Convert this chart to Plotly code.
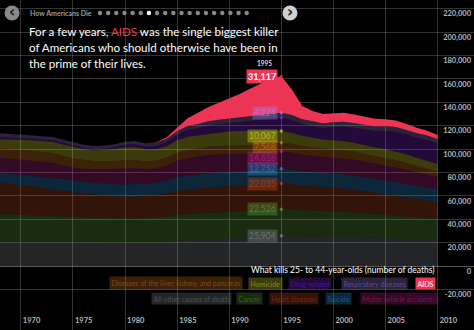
import numpy as np
import plotly.graph_objects as go

W, H = 474, 330

years = list(range(1968, 2011))

all_other = [20200, 20100, 20000, 20100, 20200, 20300, 20400, 20500, 20400, 20200,
             20000, 19700, 19500, 19600, 19700, 20300, 21000, 22000, 22300, 22800,
             23200, 23500, 23800, 24200, 24700, 25200, 25600, 25904, 25800, 25300,
             25300, 25200, 25200, 25000, 24800, 24500, 24200, 23900, 23600, 23300,
             23000, 22600, 22200]
cancer = [24200, 23900, 23600, 23200, 22500, 22200, 21800, 21400, 21000, 21000,
          21000, 21100, 21300, 21300, 21300, 21300, 21400, 21800, 22100, 22200,
          22400, 22600, 22700, 22700, 22700, 22600, 22600, 22526, 22400, 22200,
          22000, 21800, 21500, 21200, 20900, 20500, 20100, 19700, 19300, 18900,
          18600, 18300, 18000]
heart = [26300, 26000, 25600, 24800, 23900, 23300, 22300, 21200, 20400, 19600,
         19300, 18800, 18500, 18600, 18600, 18900, 19400, 20700, 21000, 21200,
         21400, 21500, 21600, 21700, 21800, 21900, 22000, 22035, 21700, 21000,
         20900, 20600, 20400, 20000, 19500, 18900, 18300, 17600, 16900, 16200,
         15500, 14800, 14200]
suicide = [8500, 8600, 8700, 9000, 9300, 9600, 9800, 10100, 10200, 10400,
           10300, 10200, 10300, 10600, 10800, 10900, 11200, 11700, 12000, 12200,
           12300, 12400, 12600, 12600, 12700, 12800, 12800, 12752, 12600, 12400,
           12200, 12000, 11900, 11900, 12000, 11900, 11900, 11800, 11700, 11700,
           11600, 11500, 11400]
motor_vehicle = [13400, 13200, 12900, 12900, 13000, 12900, 11800, 11000, 11200, 11200,
                 12000, 12900, 13800, 13600, 12300, 12200, 13000, 13800, 14800, 15100,
                 15400, 15200, 15000, 14500, 14100, 14300, 14500, 14618, 14500, 14200,
                 13900, 13700, 13700, 13600, 13600, 13200, 13000, 12900, 12600, 12100,
                 11200, 10500, 10000]
liver = [8000, 8200, 8500, 8500, 8500, 8400, 8200, 7900, 7600, 7300,
         7100, 7000, 7000, 6900, 6700, 6600, 6700, 6900, 7000, 7100,
         7200, 7300, 7400, 7400, 7500, 7500, 7600, 7568, 7500, 7400,
         7300, 7200, 7200, 7100, 7000, 6800, 6600, 6400, 6200, 5900,
         5600, 5300, 5000]
homicide = [7700, 8300, 8600, 9000, 9300, 9500, 9800, 9600, 9100, 9000,
            9300, 10200, 11200, 11000, 10300, 9700, 9600, 10600, 11200, 10800,
            11000, 11400, 12000, 12300, 11900, 11800, 11000, 10067, 9300, 8800,
            8100, 7600, 7500, 7900, 7500, 7400, 7200, 7400, 7500, 7400,
            7000, 6700, 6400]
drug = [2000, 1700, 1500, 1500, 1500, 1400, 1400, 1300, 1200, 1200,
        1300, 1500, 2000, 2600, 2300, 2800, 3600, 4500, 6000, 6500,
        7200, 7300, 7000, 7600, 8000, 8300, 9700, 11300, 11000, 10000,
        10000, 9800, 11400, 12600, 12800, 13200, 14000, 15800, 17000, 17000,
        17200, 18000, 17500]
respiratory = [3100, 3000, 2900, 2800, 2800, 2700, 2600, 2600, 2600, 2600,
               2600, 2600, 2700, 2700, 2700, 2800, 2900, 3100, 3300, 3500,
               3700, 3800, 3900, 4000, 4100, 4100, 4200, 4224, 4200, 4100,
               4100, 4000, 4000, 4000, 4000, 4000, 3900, 3900, 3900, 3800,
               3800, 3800, 3700]
aids = [0, 0, 0, 0, 0, 0, 0, 0, 0, 0,
        0, 0, 0, 0, 0, 300, 1200, 3000, 6500, 9500,
        12000, 14500, 17000, 20000, 24000, 27500, 30000, 31117, 22000, 11500,
        8600, 8000, 7800, 7600, 7300, 7000, 6600, 6100, 5600, 5100,
        4600, 4100, 3600]

names = ["All other causes of death", "Cancer", "Heart diseases", "Suicide",
         "Motor vehicle accidents", "Diseases of the liver, kidney, and pancreas",
         "Homicide", "Drug-related", "Respiratory diseases", "AIDS"]
series = [all_other, cancer, heart, suicide, motor_vehicle, liver, homicide,
          drug, respiratory, aids]

x_ticks = [1970, 1975, 1980, 1985, 1990, 1995, 2000, 2005, 2010]
y_ticks = [-20000, 0, 20000, 40000, 60000, 80000, 100000, 120000, 140000,
           160000, 180000, 200000, 220000]

highlight_year = 1995
headline = ["For a few years, <span style='color:#ec3a55'>AIDS</span> was the single biggest killer",
            "of Americans who should otherwise have been in",
            "the prime of their lives."]
legend_title = "What kills 25- to 44-year-olds (number of deaths)"

# ---- styles ----
base = [(140, 146, 156), (100, 175, 60), (205, 80, 30), (50, 150, 230),
        (205, 40, 150), (235, 130, 30), (240, 235, 45), (140, 40, 235),
        (170, 140, 240), (236, 52, 84)]


def rgba(c, a):
    return f"rgba({c[0]},{c[1]},{c[2]},{a})"


def px(x):
    return x / W


def py(y):
    return 1 - y / H


FONT = "Lato"
fig = go.Figure()

for i, (nm, vals) in enumerate(zip(names, series)):
    is_aids = nm == "AIDS"
    fig.add_trace(go.Scatter(
        x=years, y=vals, name=nm, mode="lines", stackgroup="one",
        line=dict(width=0), fillcolor=rgba(base[i], 1) if is_aids else rgba(base[i], 0.25),
        hoverinfo="skip", showlegend=False))

# value labels at highlight year
idx = years.index(highlight_year)
cum = np.cumsum(np.array(series, dtype=float), axis=0)
tops = cum[:, idx]
label_shift = [0, 0, 0, 0, -6, -4, -5, None, 0, 0]  # pixel nudges (None = hidden)
for i, nm in enumerate(names):
    if label_shift[i] is None:
        continue
    val = series[i][idx]
    is_aids = nm == "AIDS"
    fig.add_annotation(
        x=highlight_year, y=tops[i], xref="x", yref="y", text=f"{val:,}",
        showarrow=False, xanchor="right", yanchor="middle", xshift=-3,
        yshift=label_shift[i],
        font=dict(family=FONT, size=9 if is_aids else 8.5,
                  color="white" if is_aids else rgba(base[i], 0.55),
                  weight="bold" if is_aids else "normal"),
        bgcolor=rgba(base[i], 1) if is_aids else rgba(base[i], 0.33),
        borderpad=1)
fig.add_trace(go.Scatter(
    x=[highlight_year] * len(names), y=tops, mode="markers",
    marker=dict(size=3.5, color=[rgba(c, 0.6) for c in base]),
    hoverinfo="skip", showlegend=False))
fig.add_annotation(x=highlight_year, y=tops[-1], xref="x", yref="y",
                   text=str(highlight_year), showarrow=False, xanchor="right",
                   yanchor="bottom", xshift=-7, yshift=7,
                   font=dict(family=FONT, size=6.5, color="#dddddd", weight="bold"))

# headline
for k, line in enumerate(headline):
    fig.add_annotation(x=px(27), y=py(31 + 16 * k), xref="paper", yref="paper",
                       text=line, showarrow=False, xanchor="left", yanchor="middle",
                       font=dict(family=FONT, size=11.6, color="white"))

# nav bar
fig.add_annotation(x=px(28), y=py(13), xref="paper", yref="paper",
                   text="How Americans Die", showarrow=False, xanchor="left",
                   yanchor="middle",
                   font=dict(family=FONT, size=7, color="#9a9a9a", weight="bold"))
shapes = []
n_dots, cur = 19, 6
for d in range(n_dots):
    cx = 100 + d * 8.15
    shapes.append(dict(type="circle", xref="paper", yref="paper",
                       x0=px(cx - 2.2), x1=px(cx + 2.2), y0=py(13 + 2.2), y1=py(13 - 2.2),
                       fillcolor="#ffffff" if d == cur else "#8a8a8a", line=dict(width=0)))
for cx, col, ch in [(12, "#8a8a8a", "‹"), (290, "#cfcfcf", "›")]:
    shapes.append(dict(type="circle", xref="paper", yref="paper",
                       x0=px(cx - 7.5), x1=px(cx + 7.5), y0=py(13 + 7.5), y1=py(13 - 7.5),
                       fillcolor=col, line=dict(width=0)))
    fig.add_annotation(x=px(cx), y=py(12.5), xref="paper", yref="paper", text=ch,
                       showarrow=False, xanchor="center", yanchor="middle",
                       font=dict(family="DejaVu Sans", size=15, color="#1a1a1a", weight="bold"))

# legend
fig.add_annotation(x=px(437), y=py(270), xref="paper", yref="paper", text=legend_title,
                   showarrow=False, xanchor="right", yanchor="middle",
                   font=dict(family=FONT, size=8.5, color="white"))
legend_pos = {  # name -> (center x px, center y px)
    "Diseases of the liver, kidney, and pancreas": (175.5, 283),
    "Homicide": (265, 283), "Drug-related": (310, 283),
    "Respiratory diseases": (374, 283), "AIDS": (425, 283),
    "All other causes of death": (191, 298), "Cancer": (249, 298),
    "Heart diseases": (294, 298), "Suicide": (338.5, 298),
    "Motor vehicle accidents": (398.5, 298)}
for i, nm in enumerate(names):
    cx, cy = legend_pos[nm]
    is_aids = nm == "AIDS"
    fig.add_annotation(x=px(cx), y=py(cy), xref="paper", yref="paper", text=nm,
                       showarrow=False, xanchor="center", yanchor="middle",
                       font=dict(family=FONT, size=7,
                                 color="white" if is_aids else rgba(base[i], 0.42)),
                       bgcolor=rgba(base[i], 1) if is_aids else rgba(base[i], 0.25),
                       borderpad=1.5)

px_per_year = 10.42
x0_year = 1968
px_per_unit = 23.4 / 20000
zero_px = 266

fig.update_layout(
    width=W, height=H, margin=dict(l=0, r=0, t=0, b=0),
    paper_bgcolor="black", plot_bgcolor="black", shapes=shapes,
    xaxis=dict(range=[x0_year, x0_year + W / px_per_year], tickvals=x_ticks,
               ticktext=[str(t) for t in x_ticks], showgrid=True,
               gridcolor="rgba(255,255,255,0.2)", gridwidth=1, zeroline=False,
               ticks="", ticklabelposition="inside right", ticklabelstandoff=0,
               ticklabelshift=2,
               tickfont=dict(family=FONT, size=7.5, color="#b5b5b5", weight="bold"),
               fixedrange=True),
    yaxis=dict(range=[-(H - zero_px) / px_per_unit, zero_px / px_per_unit],
               tickvals=y_ticks, ticktext=[f"{v:,}" for v in y_ticks],
               side="right", showgrid=True, gridcolor="rgba(255,255,255,0.2)",
               gridwidth=1, zeroline=True, zerolinecolor="rgba(255,255,255,0.35)",
               zerolinewidth=1, ticks="", ticklabelposition="inside bottom",
               tickfont=dict(family=FONT, size=7.5, color="#b5b5b5", weight="bold"),
               fixedrange=True),
)

fig.write_html("out.html")
